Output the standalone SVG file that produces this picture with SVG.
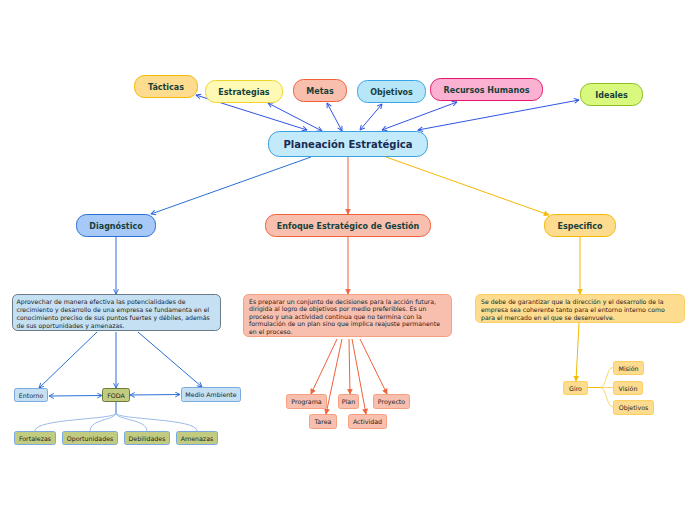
<svg xmlns="http://www.w3.org/2000/svg" width="696" height="520" viewBox="0 0 696 520">
<defs>
<style>
.t{font-family:"DejaVu Sans","Liberation Sans",sans-serif;font-weight:bold;font-size:8px;fill:#173f3a;text-anchor:middle}
.ttl{font-family:"DejaVu Sans","Liberation Sans",sans-serif;font-weight:bold;font-size:10px;fill:#1a2b52;text-anchor:middle}
.s{font-family:"DejaVu Sans","Liberation Sans",sans-serif;font-size:6.2px;fill:#222}
.sm{font-family:"DejaVu Sans","Liberation Sans",sans-serif;font-size:6.3px;fill:#222;text-anchor:middle}
.cb{fill:none;stroke:#2f55e6;stroke-width:1}
.cd{fill:none;stroke:#2a6fd8;stroke-width:1}
.cr{fill:none;stroke:#f0603a;stroke-width:1}
.co{fill:none;stroke:#f5b800;stroke-width:1}
.cl{fill:none;stroke:#8fb4e8;stroke-width:0.9}
.cy{fill:none;stroke:#fbd060;stroke-width:0.9}
</style>
<marker id="mb" viewBox="0 0 10 10" refX="9" refY="5" markerWidth="6" markerHeight="6" markerUnits="userSpaceOnUse" orient="auto-start-reverse"><path d="M1,1 L9,5 L1,9" fill="none" stroke="#2f55e6" stroke-width="1.6"/></marker>
<marker id="md" viewBox="0 0 10 10" refX="9" refY="5" markerWidth="6" markerHeight="6" markerUnits="userSpaceOnUse" orient="auto-start-reverse"><path d="M1,1 L9,5 L1,9" fill="none" stroke="#2a6fd8" stroke-width="1.6"/></marker>
<marker id="mr" viewBox="0 0 10 10" refX="9" refY="5" markerWidth="6" markerHeight="6" markerUnits="userSpaceOnUse" orient="auto"><path d="M1,1 L9,5 L1,9 Z" fill="#f0603a" stroke="#f0603a" stroke-width="1"/></marker>
<marker id="mo" viewBox="0 0 10 10" refX="9" refY="5" markerWidth="6" markerHeight="6" markerUnits="userSpaceOnUse" orient="auto"><path d="M1,1 L9,5 L1,9 Z" fill="#f5b800" stroke="#f5b800" stroke-width="1"/></marker>
</defs>
<rect width="696" height="520" fill="#ffffff"/>

<g id="connectors">
<line class="cb" x1="307" y1="130" x2="196" y2="95" marker-start="url(#mb)" marker-end="url(#mb)"/>
<line class="cb" x1="322" y1="131" x2="268" y2="103" marker-start="url(#mb)" marker-end="url(#mb)"/>
<line class="cb" x1="342" y1="131" x2="327" y2="103" marker-start="url(#mb)" marker-end="url(#mb)"/>
<line class="cb" x1="360" y1="130" x2="382" y2="104" marker-start="url(#mb)" marker-end="url(#mb)"/>
<line class="cb" x1="382" y1="130" x2="457" y2="102" marker-start="url(#mb)" marker-end="url(#mb)"/>
<line class="cb" x1="418" y1="130" x2="579" y2="100" marker-start="url(#mb)" marker-end="url(#mb)"/>

<line class="cd" x1="311" y1="157" x2="151" y2="214" marker-end="url(#md)"/>
<line class="cr" x1="348" y1="157" x2="348" y2="214" marker-end="url(#mr)"/>
<line class="co" x1="386" y1="157" x2="549" y2="215" marker-end="url(#mo)"/>

<line class="cd" x1="116" y1="237" x2="116" y2="294" marker-end="url(#md)"/>
<line class="cd" x1="97" y1="332" x2="39" y2="388" marker-end="url(#md)"/>
<line class="cd" x1="116" y1="332" x2="116" y2="388" marker-end="url(#md)"/>
<line class="cd" x1="138" y1="332" x2="202" y2="387" marker-end="url(#md)"/>
<line class="cd" x1="49" y1="396" x2="102" y2="395.5" marker-start="url(#md)" marker-end="url(#md)"/>
<line class="cd" x1="130" y1="395" x2="180" y2="394.5" marker-start="url(#md)" marker-end="url(#md)"/>
<line class="cd" x1="116" y1="402" x2="116" y2="413"/>
<path class="cl" d="M116,413 C116,420 35,418 35,431"/>
<path class="cl" d="M116,413 C116,420 90,419 90,431"/>
<path class="cl" d="M116,413 C116,420 147,419 147,431"/>
<path class="cl" d="M116,413 C116,420 197,418 197,431"/>

<line class="cr" x1="348" y1="237" x2="348" y2="294" marker-end="url(#mr)"/>
<line class="cr" x1="337" y1="339" x2="311" y2="394" marker-end="url(#mr)"/>
<line class="cr" x1="342" y1="339" x2="326" y2="414" marker-end="url(#mr)"/>
<line class="cr" x1="349" y1="339" x2="350" y2="394" marker-end="url(#mr)"/>
<line class="cr" x1="352" y1="339" x2="366" y2="414" marker-end="url(#mr)"/>
<line class="cr" x1="360" y1="339" x2="387" y2="394" marker-end="url(#mr)"/>

<line class="co" x1="580" y1="237" x2="580" y2="294" marker-end="url(#mo)"/>
<line class="co" x1="579" y1="323" x2="576" y2="381" marker-end="url(#mo)"/>
<line class="co" x1="587" y1="387.5" x2="600" y2="387.5"/>
<path class="cy" d="M600,387.5 C607,387.5 606,367.5 613,367.5"/>
<path class="cy" d="M600,387.5 L613,387.5"/>
<path class="cy" d="M600,387.5 C607,387.5 606,407 613,407"/>
</g>

<g id="n-tacticas"><rect x="134.5" y="75.5" width="63" height="22" rx="10" fill="#fddc8f" stroke="#f5b800"/><text class="t" x="166" y="89.5">Tácticas</text></g>
<g id="n-estrategias"><rect x="205.5" y="80.5" width="77" height="22" rx="10" fill="#fef9b5" stroke="#f0d42a"/><text class="t" x="244" y="94.5">Estrategias</text></g>
<g id="n-metas"><rect x="293.5" y="79.5" width="53" height="22" rx="10" fill="#f9bfae" stroke="#f0603a"/><text class="t" x="320" y="93.5">Metas</text></g>
<g id="n-objetivos"><rect x="357.5" y="80.5" width="68" height="22" rx="10" fill="#b8e6f9" stroke="#3aa5e6"/><text class="t" x="391.5" y="94.5">Objetivos</text></g>
<g id="n-recursos"><rect x="430.5" y="78.5" width="112" height="22" rx="10" fill="#fbb2d2" stroke="#e8166a"/><text class="t" x="486.5" y="92.5">Recursos Humanos</text></g>
<g id="n-ideales"><rect x="580.5" y="83.5" width="62" height="22" rx="10" fill="#d9f97e" stroke="#8cbd20"/><text class="t" x="611.5" y="97.5">Ideales</text></g>

<g id="n-planeacion"><rect x="268.5" y="131.5" width="159" height="25" rx="11" fill="#c2eafb" stroke="#3aa0e0"/><text class="ttl" x="348" y="147.5">Planeación Estratégica</text></g>

<g id="n-diagnostico"><rect x="76.5" y="214.5" width="79" height="22" rx="10" fill="#a7c9f8" stroke="#2a6fd8"/><text class="t" x="116" y="229">Diagnóstico</text></g>
<g id="n-enfoque"><rect x="265.5" y="214.5" width="165" height="22" rx="10" fill="#f9bfae" stroke="#f0603a"/><text class="t" x="348" y="228.5">Enfoque Estratégico de Gestión</text></g>
<g id="n-especifico"><rect x="544.5" y="214.5" width="71" height="22" rx="10" fill="#fddc8f" stroke="#f5b800"/><text class="t" x="580" y="228.5">Especifico</text></g>

<g id="n-diag-text"><rect x="12.5" y="294.5" width="208" height="36" rx="5" fill="#c5dff3" stroke="#6b7a88"/>
<text class="s" x="16.5" y="303.5">Aprovechar de manera efectiva las potencialidades de</text>
<text class="s" x="16.5" y="311.5">crecimiento y desarrollo de una empresa se fundamenta en el</text>
<text class="s" x="16.5" y="319.5">conocimiento preciso de sus puntos fuertes y débiles, además</text>
<text class="s" x="16.5" y="327.5">de sus oportunidades y amenazas.</text></g>

<g id="n-entorno"><rect x="14.5" y="388.5" width="33" height="13" rx="2" fill="#c5dff3" stroke="#7aa8e0"/><text class="sm" x="31" y="397.5">Entorno</text></g>
<g id="n-foda"><rect x="102.5" y="388.5" width="27" height="13" rx="2" fill="#c2cc80" stroke="#6f7a3a"/><text class="sm" x="116" y="397.5">FODA</text></g>
<g id="n-medio"><rect x="181.5" y="387.5" width="59" height="14" rx="2" fill="#c5dff3" stroke="#7aa8e0"/><text class="sm" x="211" y="397">Medio Ambiente</text></g>
<g id="n-fortalezas"><rect x="14.5" y="431.5" width="41" height="13" rx="2" fill="#c2cc80" stroke="#7aa8e0"/><text class="sm" x="35" y="440.5">Fortalezas</text></g>
<g id="n-oportunidades"><rect x="62.5" y="431.5" width="55" height="13" rx="2" fill="#c2cc80" stroke="#7aa8e0"/><text class="sm" x="90" y="440.5">Oportunidades</text></g>
<g id="n-debilidades"><rect x="124.5" y="431.5" width="45" height="13" rx="2" fill="#c2cc80" stroke="#7aa8e0"/><text class="sm" x="147" y="440.5">Debilidades</text></g>
<g id="n-amenazas"><rect x="176.5" y="431.5" width="41" height="13" rx="2" fill="#c2cc80" stroke="#7aa8e0"/><text class="sm" x="197" y="440.5">Amenazas</text></g>

<g id="n-enfoque-text"><rect x="243.5" y="294.5" width="208" height="42" rx="5" fill="#f9bfae" stroke="#f7a080"/>
<text class="s" x="249" y="303.5">Es preparar un conjunto de decisiones para la acción futura,</text>
<text class="s" x="249" y="311">dirigida al logro de objetivos por medio preferibles. Es un</text>
<text class="s" x="249" y="318.5">proceso y una actividad continua que no termina con la</text>
<text class="s" x="249" y="326">formulación de un plan sino que implica reajuste permanente</text>
<text class="s" x="249" y="333.5">en el proceso.</text></g>

<g id="n-programa"><rect x="286.5" y="394.5" width="40" height="14" rx="2" fill="#f9bfae" stroke="#f7a080"/><text class="sm" x="306.5" y="404">Programa</text></g>
<g id="n-plan"><rect x="338.5" y="394.5" width="20" height="14" rx="2" fill="#f9bfae" stroke="#f7a080"/><text class="sm" x="348.5" y="404">Plan</text></g>
<g id="n-proyecto"><rect x="373.5" y="394.5" width="36" height="14" rx="2" fill="#f9bfae" stroke="#f7a080"/><text class="sm" x="391.5" y="404">Proyecto</text></g>
<g id="n-tarea"><rect x="309.5" y="414.5" width="27" height="14" rx="2" fill="#f9bfae" stroke="#f7a080"/><text class="sm" x="323" y="424">Tarea</text></g>
<g id="n-actividad"><rect x="348.5" y="414.5" width="38" height="14" rx="2" fill="#f9bfae" stroke="#f7a080"/><text class="sm" x="367.5" y="424">Actividad</text></g>

<g id="n-esp-text"><rect x="475.5" y="294.5" width="209" height="28" rx="5" fill="#fddc8f" stroke="#fbd060"/>
<text class="s" x="481" y="303.5">Se debe de garantizar que la dirección y el desarrollo de la</text>
<text class="s" x="481" y="311.5">empresa sea coherente tanto para el entorno interno como</text>
<text class="s" x="481" y="319.5">para el mercado en el que se desenvuelve.</text></g>

<g id="n-giro"><rect x="563.5" y="381.5" width="24" height="13" rx="2" fill="#fddc8f" stroke="#fbd060"/><text class="sm" x="575.5" y="390.5">Giro</text></g>
<g id="n-mision"><rect x="613.5" y="361.5" width="30" height="13" rx="2" fill="#fddc8f" stroke="#fbd060"/><text class="sm" x="628.5" y="370.5">Misión</text></g>
<g id="n-vision"><rect x="613.5" y="381.5" width="29" height="13" rx="2" fill="#fddc8f" stroke="#fbd060"/><text class="sm" x="628" y="390.5">Visión</text></g>
<g id="n-objetivos2"><rect x="613.5" y="400.5" width="40" height="14" rx="2" fill="#fddc8f" stroke="#fbd060"/><text class="sm" x="633.5" y="410">Objetivos</text></g>
</svg>
